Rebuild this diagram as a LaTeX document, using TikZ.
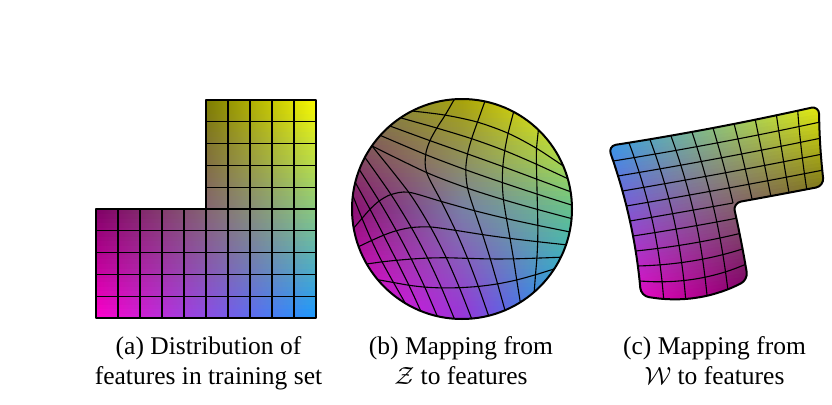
\documentclass[tikz,border=0pt]{standalone}
\usepackage{fontspec}
\setmainfont{Liberation Serif}
\definecolor{cMag}{rgb}{1,0,0.8}
\definecolor{cBlu}{rgb}{0.1,0.6,1}
\definecolor{cYel}{rgb}{0.98,0.98,0}
\definecolor{cBlk}{rgb}{0,0,0}
% colour field of the disk (3x3 control colours)
\definecolor{dTL}{rgb}{0.45,0.5,0.3}
\definecolor{dTM}{rgb}{0.66,0.64,0.04}
\definecolor{dTR}{rgb}{1,1,0}
\definecolor{dML}{rgb}{0.55,0.06,0.45}
\definecolor{dC}{rgb}{0.47,0.5,0.65}
\definecolor{dMR}{rgb}{0.4,0.76,0.55}
\definecolor{dBL}{rgb}{1,0,0.9}
\definecolor{dBM}{rgb}{0.6,0.2,0.85}
\definecolor{dBR}{rgb}{0,0.65,1}

% ---- storage of disk grid nodes (harmonic map of the L grid) ----
\newcommand\Pset[4]{\expandafter\xdef\csname pX@#1@#2\endcsname{#3}\expandafter\xdef\csname pY@#1@#2\endcsname{#4}}
\newcommand\PX[2]{\csname pX@#1@#2\endcsname}
\newcommand\PY[2]{\csname pY@#1@#2\endcsname}
\newcommand\setbd[3]{%
  \pgfmathsetmacro\bdx{462+110*cos(#3)}%
  \pgfmathsetmacro\bdy{209-110*sin(#3)}%
  \Pset{#1}{#2}{\bdx}{\bdy}}
\newcommand\updnode[2]{%
  \edef\iA{\the\numexpr#1-1\relax}\edef\iB{\the\numexpr#1+1\relax}%
  \edef\jA{\the\numexpr#2-1\relax}\edef\jB{\the\numexpr#2+1\relax}%
  \edef\exX{-0.5*\PX{#1}{#2}+0.375*(\PX{\iA}{#2}+\PX{\iB}{#2}+\PX{#1}{\jA}+\PX{#1}{\jB})}%
  \edef\exY{-0.5*\PY{#1}{#2}+0.375*(\PY{\iA}{#2}+\PY{\iB}{#2}+\PY{#1}{\jA}+\PY{#1}{\jB})}%
  \pgfmathsetmacro\nwx{\exX}\pgfmathsetmacro\nwy{\exY}%
  \Pset{#1}{#2}{\nwx}{\nwy}}
\newcommand\rowlist[3]{% j, i0, i1
  \gdef\ptlist{}\foreach \k in {#2,...,#3}{\xdef\ptlist{\ptlist(\PX{\k}{#1},\PY{\k}{#1})}}}
\newcommand\collist[3]{% i, j0, j1
  \gdef\ptlist{}\foreach \k in {#2,...,#3}{\xdef\ptlist{\ptlist(\PX{#1}{\k},\PY{#1}{\k})}}}

% W map: local (s,t) -> pixel point
\newcommand\Wmap[2]{%
  \pgfmathsetmacro\wLa{2*((#1)-0.5)*((#1)-1)}%
  \pgfmathsetmacro\wLb{-4*(#1)*((#1)-1)}%
  \pgfmathsetmacro\wLc{2*(#1)*((#1)-0.5)}%
  \pgfmathsetmacro\wMa{2*((#2)-0.5)*((#2)-1)}%
  \pgfmathsetmacro\wMb{-4*(#2)*((#2)-1)}%
  \pgfmathsetmacro\wMc{2*(#2)*((#2)-0.5)}%
  \pgfmathsetmacro\mx{\wMa*(\wLa*641+\wLb*748+\wLc*839)+\wMb*(\wLa*630+\wLb*733+\wLc*824)+\wMc*(\wLa*608+\wLb*713+\wLc*819)}%
  \pgfmathsetmacro\my{\wMa*(\wLa*296+\wLb*280+\wLc*263)+\wMb*(\wLa*221+\wLb*203+\wLc*186)+\wMc*(\wLa*146+\wLb*128+\wLc*106)+160*max(0,(#1)*(0.5-(#1)))*max(0,1-2*(#2))^2}%
}
\newcommand\mapseg[6]{%
  \gdef\ptlist{}%
  \foreach \k in {0,...,#6}{%
    \pgfmathsetmacro\uu{#2+(#4-(#2))*\k/#6}%
    \pgfmathsetmacro\vv{#3+(#5-(#3))*\k/#6}%
    #1{\uu}{\vv}%
    \xdef\ptlist{\ptlist(\mx,\my)}%
  }}
\newcommand\mapapp[6]{%
  \foreach \k in {1,...,#6}{%
    \pgfmathsetmacro\uu{#2+(#4-(#2))*\k/#6}%
    \pgfmathsetmacro\vv{#3+(#5-(#3))*\k/#6}%
    #1{\uu}{\vv}%
    \xdef\bdpath{\bdpath -- (\mx,\my)}%
  }}
% bilinear colour field by thin shaded strips
\newcommand\bilin[8]{%
  \foreach \k in {0,...,47}{%
    \pgfmathsetmacro\sA{#3+(#4-(#3))*\k/48}%
    \pgfmathsetmacro\sB{#3+(#4-(#3))*(\k+1.25)/48}%
    \pgfmathsetmacro\pc{100*(\k+0.5)/48}%
    \shade[left color=#5!\pc!#7, right color=#6!\pc!#8] (#1,\sA) rectangle (#2,\sB);
  }}
% 3x3 piecewise bilinear colour field (colours named <prefix>TL ... <prefix>BR)
\newcommand\triGrid[5]{%
  \foreach \k in {0,...,47}{%
    \pgfmathsetmacro\sA{#3+(#4-(#3))*\k/48}%
    \pgfmathsetmacro\sB{#3+(#4-(#3))*(\k+1.25)/48}%
    \ifnum\k<24
      \pgfmathsetmacro\pc{100*(\k+0.5)/24}%
      \edef\cL{#5ML!\pc!#5BL}\edef\cM{#5C!\pc!#5BM}\edef\cR{#5MR!\pc!#5BR}%
    \else
      \pgfmathsetmacro\pc{100*(\k-23.5)/24}%
      \edef\cL{#5TL!\pc!#5ML}\edef\cM{#5TM!\pc!#5C}\edef\cR{#5TR!\pc!#5MR}%
    \fi
    \shade[left color=\cL, right color=\cR, middle color=\cM] (#1,\sA) rectangle (#2,\sB);
  }}

\begin{document}
\begin{tikzpicture}[x=1pt,y=-1pt,
  gridl/.style={line width=1.1pt, black},
  outl/.style={line width=2pt, black, line join=round},
  captxt/.style={font=\fontsize{25.5}{30}\selectfont, inner sep=0pt, anchor=base}]
\path[fill=white, use as bounding box] (0,0) rectangle (832,404);

% ---------- (a) L-shaped distribution ----------
\begin{scope}
  \clip (96,318) -- (316,318) -- (316,100) -- (206,100) -- (206,209) -- (96,209) -- cycle;
  \bilin{96}{316}{318}{100}{cBlk}{cYel}{cMag}{cBlu}
\end{scope}
\foreach \i in {1,...,4}{\draw[gridl] ({96+22*\i},209) -- ({96+22*\i},318);}
\foreach \i in {5,...,9}{\draw[gridl] ({96+22*\i},100) -- ({96+22*\i},318);}
\foreach \j in {1,...,4}{\draw[gridl] (206,{100+21.8*\j}) -- (316,{100+21.8*\j});}
\foreach \j in {5,...,9}{\draw[gridl] (96,{100+21.8*\j}) -- (316,{100+21.8*\j});}
\draw[outl] (96,318) -- (316,318) -- (316,100) -- (206,100) -- (206,209) -- (96,209) -- cycle;

% ---------- (b) disk: discrete harmonic image of the L grid ----------
\foreach \i in {0,...,10}{\pgfmathsetmacro\ang{-130+9*\i}\setbd{\i}{0}{\ang}}
\foreach \j in {1,...,10}{\pgfmathsetmacro\ang{-40+7*\j}\setbd{10}{\j}{\ang}}
\foreach \i in {9,...,5}{\pgfmathsetmacro\ang{30+16*(10-\i)}\setbd{\i}{10}{\ang}}
\foreach \j in {9,...,5}{\pgfmathsetmacro\ang{110+7*(10-\j)}\setbd{5}{\j}{\ang}}
\foreach \i in {4,...,0}{\pgfmathsetmacro\ang{145+7*(5-\i)}\setbd{\i}{5}{\ang}}
\foreach \j in {4,...,1}{\pgfmathsetmacro\ang{180+10*(5-\j)}\setbd{0}{\j}{\ang}}
\foreach \i in {1,...,9}{\foreach \j in {1,...,4}{\Pset{\i}{\j}{462}{209}}}
\foreach \i in {6,...,9}{\foreach \j in {5,...,9}{\Pset{\i}{\j}{462}{209}}}
\foreach \it in {1,...,45}{%
  \foreach \i in {1,...,9}{\foreach \j in {1,...,4}{\updnode{\i}{\j}}}%
  \foreach \i in {6,...,9}{\foreach \j in {5,...,9}{\updnode{\i}{\j}}}%
}
\begin{scope}
  \clip (462,209) circle[radius=110pt];
  \triGrid{352}{572}{319}{99}{d}
  \foreach \cj in {1,...,4}{\rowlist{\cj}{0}{10}\draw[gridl] plot[smooth] coordinates {\ptlist};}
  \foreach \cj in {5,...,9}{\rowlist{\cj}{5}{10}\draw[gridl] plot[smooth] coordinates {\ptlist};}
  \foreach \ci in {1,...,5}{\collist{\ci}{0}{5}\draw[gridl] plot[smooth] coordinates {\ptlist};}
  \foreach \ci in {6,...,9}{\collist{\ci}{0}{10}\draw[gridl] plot[smooth] coordinates {\ptlist};}
\end{scope}
\draw[outl] (462,209) circle[radius=110pt];

% ---------- (c) W shape ----------
\Wmap{0}{0}\xdef\bdpath{(\mx,\my)}
\mapapp{\Wmap}{0}{0}{0.5}{0}{5}
\mapapp{\Wmap}{0.5}{0}{0.5}{0.5}{5}
\mapapp{\Wmap}{0.5}{0.5}{1}{0.5}{5}
\mapapp{\Wmap}{1}{0.5}{1}{1}{5}
\mapapp{\Wmap}{1}{1}{0}{1}{10}
\mapapp{\Wmap}{0}{1}{0}{0.1}{9}
\begin{scope}
  \clip[rounded corners=8pt] \bdpath -- cycle;
  \begin{scope}[transform canvas={cm={2.09,0.34,-0.34,1.50,(641pt,-296pt)}}]
    \begin{scope}[x=1pt,y=1pt]
      \bilin{-8}{108}{-8}{108}{cBlu}{cYel}{cMag}{cBlk}
    \end{scope}
  \end{scope}
  \foreach \ct in {0.1,0.2,0.3,0.4,0.5}{\mapseg{\Wmap}{0}{\ct}{0.5}{\ct}{10}\draw[gridl] plot[smooth] coordinates {\ptlist};}
  \foreach \ct in {0.6,0.7,0.8,0.9}{\mapseg{\Wmap}{0}{\ct}{1}{\ct}{20}\draw[gridl] plot[smooth] coordinates {\ptlist};}
  \foreach \cs in {0.1,0.2,0.3,0.4}{\mapseg{\Wmap}{\cs}{0}{\cs}{1}{20}\draw[gridl] plot[smooth] coordinates {\ptlist};}
  \foreach \cs in {0.5,0.6,0.7,0.8,0.9}{\mapseg{\Wmap}{\cs}{0.5}{\cs}{1}{10}\draw[gridl] plot[smooth] coordinates {\ptlist};}
\end{scope}
\draw[outl, rounded corners=8pt] \bdpath -- cycle;

% ---------- captions ----------
\node[captxt] (capA1) at (208.5,354) {(a) Distribution of};
\node[captxt] (capA2) at (208.5,384) {features in training set};
\node[captxt] (capB1) at (461,354) {(b) Mapping from};
\node[captxt] (capB2) at (461,384) {$\mathcal{Z}$ to features};
\node[captxt] (capC1) at (714.5,354) {(c) Mapping from};
\node[captxt] (capC2) at (714.5,384) {$\mathcal{W}$ to features};
\end{tikzpicture}
\end{document}
